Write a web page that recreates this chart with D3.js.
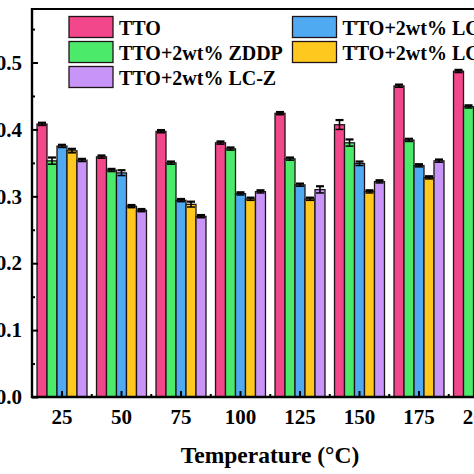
<!DOCTYPE html>
<html>
<head>
<meta charset="utf-8">
<script src="https://cdn.jsdelivr.net/npm/d3@7/dist/d3.min.js"></script>
<style>
  html, body { margin: 0; padding: 0; background: #fff; overflow: hidden; }
  svg { display: block; }
  text { font-family: "Liberation Serif", "Times New Roman", serif; font-weight: bold; fill: #000; }
</style>
</head>
<body>
<svg id="chart" width="474" height="474"></svg>
<script>
// ---- data ----
const categories = ["25", "50", "75", "100", "125", "150", "175", "200"];
const seriesNames = ["TTO", "TTO+2wt% ZDDP", "TTO+2wt% LC", "TTO+2wt% LC", "TTO+2wt% LC-Z"];
const seriesColors = ["#F2478A", "#4CEA6B", "#50AAF2", "#FFC81E", "#C894F7"];
const ttoValues  = [0.408, 0.359, 0.397, 0.380, 0.424, 0.407, 0.465, 0.487];
const zddpValues = [0.353, 0.339, 0.350, 0.371, 0.356, 0.380, 0.384, 0.434];
const lc1Values  = [0.375, 0.335, 0.294, 0.304, 0.317, 0.349, 0.346, null];
const lc2Values  = [0.368, 0.285, 0.288, 0.296, 0.296, 0.307, 0.328, null];
const lczValues  = [0.354, 0.279, 0.270, 0.307, 0.310, 0.322, 0.353, null];
const ttoErr  = [0.002, 0.002, 0.002, 0.002, 0.002, 0.007, 0.002, 0.002];
const zddpErr = [0.005, 0.002, 0.002, 0.002, 0.002, 0.005, 0.002, 0.002];
const lc1Err  = [0.002, 0.004, 0.002, 0.002, 0.002, 0.003, 0.002, null];
const lc2Err  = [0.003, 0.002, 0.004, 0.002, 0.002, 0.002, 0.002, null];
const lczErr  = [0.002, 0.002, 0.002, 0.002, 0.005, 0.002, 0.002, null];
const yTicks = [0.0, 0.1, 0.2, 0.3, 0.4, 0.5];
const yMinorTicks = [0.05, 0.15, 0.25, 0.35, 0.45, 0.55];
const xLabel = "Temperature (\u00B0C)";

const allValues = [ttoValues, zddpValues, lc1Values, lc2Values, lczValues];
const allErrors = [ttoErr, zddpErr, lc1Err, lc2Err, lczErr];

// ---- layout ----
const svg = d3.select("#chart");
const plotLeft = 32, plotTop = 9, plotBottom = 397, plotRight = 508.5;

const x = d3.scaleBand().domain(categories).range([plotLeft, plotRight])
  .paddingInner(0.16).paddingOuter(0.084);
const xs = d3.scaleBand().domain(d3.range(seriesNames.length)).range([0, x.bandwidth()]);
const y = d3.scaleLinear().domain([0, 0.58]).range([plotBottom, plotTop]);

svg.append("rect").attr("width", 474).attr("height", 474).attr("fill", "#fff");

// bars
const rows = [];
categories.forEach((c, ci) => {
  allValues.forEach((vals, si) => {
    if (vals[ci] != null) rows.push({ c, si, v: vals[ci], e: allErrors[si][ci] });
  });
});

svg.append("g").selectAll("rect").data(rows).join("rect")
  .attr("x", d => x(d.c) + xs(d.si))
  .attr("y", d => y(d.v))
  .attr("width", xs.bandwidth())
  .attr("height", d => y(0) - y(d.v))
  .attr("fill", d => seriesColors[d.si])
  .attr("stroke", "#1e1418")
  .attr("stroke-width", 1.3);

// error bars
const eg = svg.append("g").attr("stroke", "#000").attr("stroke-width", 1.6);
rows.forEach(d => {
  const cx = x(d.c) + xs(d.si) + xs.bandwidth() / 2;
  const hw = xs.bandwidth() * 0.4;
  eg.append("line").attr("x1", cx).attr("x2", cx).attr("y1", y(d.v - d.e)).attr("y2", y(d.v + d.e));
  eg.append("line").attr("x1", cx - hw).attr("x2", cx + hw).attr("y1", y(d.v + d.e)).attr("y2", y(d.v + d.e)).attr("stroke-width", 2.2);
  eg.append("line").attr("x1", cx - hw).attr("x2", cx + hw).attr("y1", y(d.v - d.e)).attr("y2", y(d.v - d.e)).attr("stroke-width", 1.5);
});

// y axis
const yAxis = d3.axisLeft(y).tickValues(yTicks).tickFormat(d3.format(".1f")).tickSizeInner(-6).tickSizeOuter(0).tickPadding(10);
const yg = svg.append("g").attr("transform", `translate(${plotLeft},0)`).call(yAxis);
yg.select(".domain").remove();
yg.selectAll(".tick line").attr("stroke", "#000").attr("stroke-width", 2);
yg.selectAll(".tick text").attr("font-size", 21).attr("font-family", "Liberation Serif").attr("font-weight", "bold").attr("fill", "#000");
const ymg = svg.append("g").attr("transform", `translate(${plotLeft},0)`)
  .call(d3.axisLeft(y).tickValues(yMinorTicks).tickSizeInner(-3).tickSizeOuter(0).tickFormat(""));
ymg.select(".domain").remove();
ymg.selectAll(".tick line").attr("stroke", "#000").attr("stroke-width", 2);

// x axis
const xAxis = d3.axisBottom(x).tickSizeInner(-6).tickSizeOuter(0).tickPadding(12);
const xg = svg.append("g").attr("transform", `translate(0,${plotBottom})`).call(xAxis);
xg.select(".domain").remove();
xg.selectAll(".tick line").attr("stroke", "#000").attr("stroke-width", 2);
xg.selectAll(".tick text").attr("font-size", 21).attr("font-family", "Liberation Serif").attr("font-weight", "bold").attr("fill", "#000");
// minor x ticks between groups
const midPoints = categories.map(c => x(c) + x.bandwidth() + x.step() * x.paddingInner() / 2);
svg.append("g").selectAll("line").data(midPoints).join("line")
  .attr("x1", d => d).attr("x2", d => d).attr("y1", plotBottom).attr("y2", plotBottom - 3)
  .attr("stroke", "#000").attr("stroke-width", 2);

// frame
svg.append("line").attr("x1", plotLeft).attr("x2", plotRight).attr("y1", plotTop).attr("y2", plotTop).attr("stroke", "#000").attr("stroke-width", 2.2);
svg.append("line").attr("x1", plotLeft).attr("x2", plotLeft).attr("y1", plotTop - 1).attr("y2", plotBottom + 1).attr("stroke", "#000").attr("stroke-width", 2.4);
svg.append("line").attr("x1", plotLeft - 1).attr("x2", plotRight).attr("y1", plotBottom).attr("y2", plotBottom).attr("stroke", "#000").attr("stroke-width", 2.4);

// x label
svg.append("text").attr("x", 270).attr("y", 463).attr("text-anchor", "middle")
  .attr("font-size", 23.5).text(xLabel);

// legend (column-major, as in the reference)
const legendItems = [
  { si: 0, col: 0, row: 0 },
  { si: 1, col: 0, row: 1 },
  { si: 4, col: 0, row: 2 },
  { si: 2, col: 1, row: 0 },
  { si: 3, col: 1, row: 1 }
];
const colX = [69, 292.5];
const lg = svg.append("g");
legendItems.forEach(it => {
  const sx = colX[it.col], sy = 16.5 + it.row * 25;
  lg.append("rect").attr("x", sx).attr("y", sy).attr("width", 44).attr("height", 21)
    .attr("fill", seriesColors[it.si]).attr("stroke", "#1e1418").attr("stroke-width", 1.3);
  lg.append("text").attr("x", sx + 50).attr("y", sy + 18).attr("font-size", 20)
    .text(seriesNames[it.si]);
});
</script>
</body>
</html>
